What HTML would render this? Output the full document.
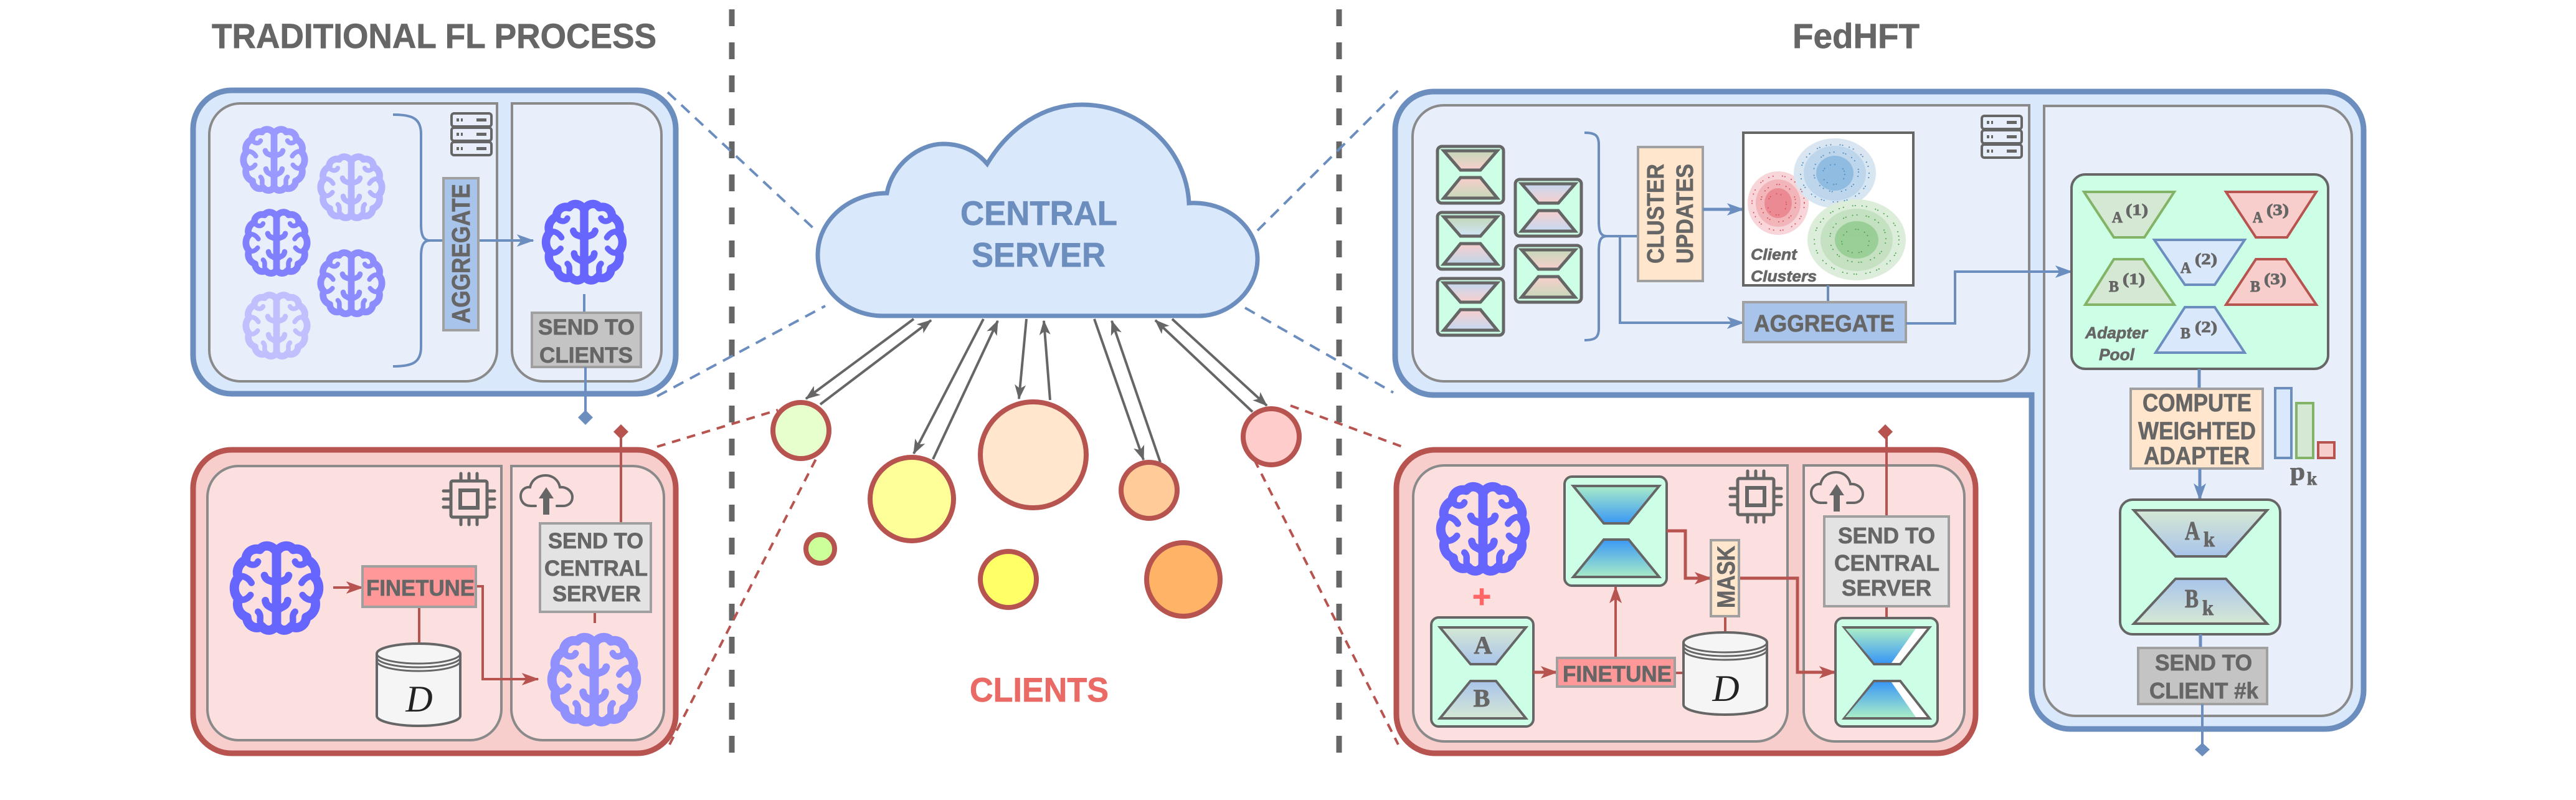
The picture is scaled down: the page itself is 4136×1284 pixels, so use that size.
<!DOCTYPE html>
<html><head><meta charset="utf-8"><title>FedHFT diagram</title>
<style>
html,body{margin:0;padding:0;background:#fff}
svg{display:block}
text{font-family:"Liberation Sans",sans-serif;font-weight:bold;fill:#666;stroke:#666;stroke-width:.7px}
.m{font-family:"Liberation Serif",serif;stroke-width:.9px}
.i{font-style:italic}
</style></head><body>
<svg xmlns="http://www.w3.org/2000/svg" width="4136" height="1284" viewBox="0 0 4136 1284">
<defs>
<marker id="hb" viewBox="0 0 16 16" refX="15" refY="8" markerWidth="28" markerHeight="20" markerUnits="userSpaceOnUse" orient="auto" preserveAspectRatio="none"><path d="M0,0 L16,8 L0,16 L4,8 Z" fill="#6c8ebf"/></marker>
<marker id="hr" viewBox="0 0 16 16" refX="15" refY="8" markerWidth="28" markerHeight="20" markerUnits="userSpaceOnUse" orient="auto" preserveAspectRatio="none"><path d="M0,0 L16,8 L0,16 L4,8 Z" fill="#b85450"/></marker>
<marker id="hg" viewBox="0 0 16 16" refX="15" refY="8" markerWidth="24" markerHeight="18" markerUnits="userSpaceOnUse" orient="auto" preserveAspectRatio="none"><path d="M0,0 L16,8 L0,16 L4,8 Z" fill="#666"/></marker>

<linearGradient id="gpT" x1="0" y1="0" x2="0" y2="1"><stop offset="0" stop-color="#c6d9ba"/><stop offset="1" stop-color="#f8cecc"/></linearGradient>
<linearGradient id="gpB" x1="0" y1="1" x2="0" y2="0"><stop offset="0" stop-color="#c6d9ba"/><stop offset="1" stop-color="#f8cecc"/></linearGradient>
<linearGradient id="gbT" x1="0" y1="0" x2="0" y2="1"><stop offset="0" stop-color="#c4d9f2"/><stop offset="1" stop-color="#f8cecc"/></linearGradient>
<linearGradient id="gbB" x1="0" y1="1" x2="0" y2="0"><stop offset="0" stop-color="#c4d9f2"/><stop offset="1" stop-color="#f8cecc"/></linearGradient>
<linearGradient id="ggT" x1="0" y1="0" x2="0" y2="1"><stop offset="0" stop-color="#c3d6b8"/><stop offset="1" stop-color="#cfe6f8"/></linearGradient>
<linearGradient id="ggB" x1="0" y1="1" x2="0" y2="0"><stop offset="0" stop-color="#bfd6ea"/><stop offset="1" stop-color="#f8cecc"/></linearGradient>
<linearGradient id="akT" x1="0" y1="0" x2="0" y2="1"><stop offset="0" stop-color="#d5e8d4"/><stop offset="1" stop-color="#a9c4eb"/></linearGradient>
<linearGradient id="akB" x1="0" y1="1" x2="0" y2="0"><stop offset="0" stop-color="#d5e8d4"/><stop offset="1" stop-color="#a9c4eb"/></linearGradient>
<linearGradient id="blT" x1="0" y1="0" x2="0" y2="1"><stop offset="0" stop-color="#a9ecc8"/><stop offset="1" stop-color="#3a98f5"/></linearGradient>
<linearGradient id="blB" x1="0" y1="1" x2="0" y2="0"><stop offset="0" stop-color="#a9ecc8"/><stop offset="1" stop-color="#3a98f5"/></linearGradient>

<g id="brain" fill="none" stroke-linecap="round" stroke-linejoin="round">
<path stroke-width="10" d="M50,12 C46,4 36,3 32,9 C24,7 17,12 17,20 C9,24 6,32 9,39 C3,45 3,56 9,62 C6,71 10,79 18,82 C18,90 26,96 34,92 C39,98 47,97 50,90 C53,97 61,98 66,92 C74,96 82,90 82,82 C90,79 94,71 91,62 C97,56 97,45 91,39 C94,32 91,24 83,20 C83,12 76,7 68,9 C64,3 54,4 50,12 Z"/>
<path stroke-width="10" d="M50,12 V92"/>
<path stroke-width="8" d="M50,46 C46,42 39,44 37,37 M50,46 C54,42 61,44 63,37 M50,76 C46,70 39,72 38,64 M50,76 C54,70 61,72 62,64"/>
<path stroke-width="7" d="M17,20 C20,27 28,27 30,22 M83,20 C80,27 72,27 70,22 M9,39 C14,36 20,40 23,45 M91,39 C86,36 80,40 77,45 M9,62 C14,65 19,62 22,58 M91,62 C86,65 81,62 78,58 M34,92 C30,85 35,81 30,76 M66,92 C70,85 65,81 70,76"/>
</g>

<g id="server" fill="none" stroke="#666">
<rect x="2" y="2" width="64" height="21" rx="4" stroke-width="4"/>
<rect x="2" y="25" width="64" height="21" rx="4" stroke-width="4"/>
<rect x="2" y="48" width="64" height="21" rx="4" stroke-width="4"/>
<path stroke-width="5" d="M10,12.5 h4 M17,12.5 h3 M42,12.5 h16 M10,35.5 h4 M17,35.5 h3 M42,35.5 h16 M10,58.5 h4 M17,58.5 h3 M42,58.5 h16"/>
</g>

<g id="cpu" fill="none" stroke="#666">
<rect x="15" y="15" width="58" height="58" rx="3" stroke-width="5"/>
<rect x="30" y="30" width="28" height="28" stroke-width="6"/>
<path stroke-width="5" stroke-linecap="round" d="M31,3 V15 M44,3 V15 M57,3 V15 M31,73 V85 M44,73 V85 M57,73 V85 M3,31 H15 M3,44 H15 M3,57 H15 M73,31 H85 M73,44 H85 M73,57 H85"/>
</g>

<g id="cloudup" fill="none">
<path stroke="#666" stroke-width="4" stroke-linecap="round" d="M26,52 H18 C7,52 2,44 2,36 C2,27 9,21 17,22 C20,9 31,3 42,3 C54,3 63,11 65,22 C75,21 85,28 85,38 C85,47 78,52 70,52 H60"/>
<path fill="#666" d="M43,22 L55,40 H48 V66 H38 V40 H31 Z"/>
</g>

<g id="cyl">
<path d="M0,18 A67,16 0 0 1 134,18 V118 A67,16 0 0 1 0,118 Z" fill="#f5f5f5" stroke="#666" stroke-width="4"/>
<path d="M0,18 A67,16 0 0 0 134,18 M0,24 A67,16 0 0 0 134,24 M0,30 A67,16 0 0 0 134,30" fill="none" stroke="#666" stroke-width="3"/>
</g>
</defs>

<rect width="4136" height="1284" fill="#fff"/>

<!-- titles -->
<text x="340" y="77" font-size="56" textLength="714" lengthAdjust="spacingAndGlyphs">TRADITIONAL FL PROCESS</text>
<text x="2878" y="77" font-size="56" textLength="204" lengthAdjust="spacingAndGlyphs">FedHFT</text>

<!-- vertical dashed -->
<path d="M1175,15 V1214 M2150,15 V1214" stroke="#666" stroke-width="9" stroke-dasharray="27 26" fill="none"/>

<!-- dashed connectors -->
<g fill="none" stroke-width="4">
<path d="M1072,148 L1310,370 M1055,636 L1325,491 M2019,370 L2245,145 M1999,494 L2237,630" stroke="#6c8ebf" stroke-dasharray="18 12"/>
<path d="M1055,717 L1249,658 M1075,1195 L1313,731 M2072,651 L2257,719 M2014,738 L2245,1195" stroke="#b85450" stroke-dasharray="14 11"/>
</g>

<!-- ========== LEFT BLUE ========== -->
<rect x="310" y="145" width="775" height="487" rx="62" fill="#dae8fc" stroke="#6c8ebf" stroke-width="9"/>
<path d="M386,166 H798 V562 A50,50 0 0 1 748,612 H386 A50,50 0 0 1 336,562 V216 A50,50 0 0 1 386,166 Z" fill="#e8effb" stroke="#8a8a8a" stroke-width="4"/>
<path d="M822,166 H1012 A50,50 0 0 1 1062,216 V562 A50,50 0 0 1 1012,612 H872 A50,50 0 0 1 822,562 Z" fill="#e8effb" stroke="#8a8a8a" stroke-width="4"/>
<use href="#brain" transform="translate(386,202) scale(1.08)" stroke="#9999ff"/>
<use href="#brain" transform="translate(510,246) scale(1.08)" stroke="#b3b3ff"/>
<use href="#brain" transform="translate(390,335) scale(1.08)" stroke="#8080ff"/>
<use href="#brain" transform="translate(510,400) scale(1.08)" stroke="#8c8cff"/>
<use href="#brain" transform="translate(390,468) scale(1.08)" stroke="#c0c0ff"/>
<use href="#brain" transform="translate(870.5,320.5) scale(1.35)" stroke="#6666ff"/>
<use href="#server" transform="translate(723,180)"/>
<path d="M631,184 C662,184 676,190 676,215 V360 C676,378 680,386 690,386 C680,386 676,394 676,412 V557 C676,582 662,588 631,588" fill="none" stroke="#6c8ebf" stroke-width="4"/>
<path d="M685,386 H856" fill="none" stroke="#6c8ebf" stroke-width="4" marker-end="url(#hb)"/>
<rect x="712" y="286" width="56" height="244" fill="#a9c4eb" stroke="#a0a0a0" stroke-width="4"/>
<text transform="translate(754,519) rotate(-90)" font-size="41" textLength="224" lengthAdjust="spacingAndGlyphs">AGGREGATE</text>
<path d="M938,472 V502" stroke="#6c8ebf" stroke-width="4"/>
<rect x="854" y="502" width="175" height="87" fill="#c4c4c4" stroke="#a0a0a0" stroke-width="4"/>
<text x="864" y="537" font-size="35" textLength="155" lengthAdjust="spacingAndGlyphs">SEND TO</text>
<text x="866" y="582" font-size="35" textLength="150" lengthAdjust="spacingAndGlyphs">CLIENTS</text>
<path d="M940,589 V670" stroke="#6c8ebf" stroke-width="4"/>
<polygon points="940,658 952,670 940,682 928,670" fill="#6c8ebf"/>

<!-- ========== LEFT RED ========== -->
<rect x="310" y="722" width="775" height="487" rx="62" fill="#f8cecc" stroke="#b85450" stroke-width="9"/>
<path d="M383,748 H805 V1138 A50,50 0 0 1 755,1188 H383 A50,50 0 0 1 333,1138 V798 A50,50 0 0 1 383,748 Z" fill="#fbe0df" stroke="#8a8a8a" stroke-width="4"/>
<path d="M821,748 H1016 A50,50 0 0 1 1066,798 V1138 A50,50 0 0 1 1016,1188 H871 A50,50 0 0 1 821,1138 Z" fill="#fbe0df" stroke="#8a8a8a" stroke-width="4"/>
<use href="#cpu" transform="translate(709,757)"/>
<use href="#cloudup" transform="translate(834,760)"/>
<use href="#brain" transform="translate(369.5,868.5) scale(1.49)" stroke="#6666ff"/>
<use href="#brain" transform="translate(879.5,1015.5) scale(1.49)" stroke="#9090ff"/>
<path d="M535,943 H582" fill="none" stroke="#b85450" stroke-width="4" marker-end="url(#hr)"/>
<path d="M764,941 H775 V1090 H864" fill="none" stroke="#b85450" stroke-width="4" marker-end="url(#hr)"/>
<path d="M673,974 V1031" stroke="#b85450" stroke-width="4"/>
<rect x="582" y="909" width="182" height="65" fill="#ff9999" stroke="#a0a0a0" stroke-width="4"/>
<text x="588" y="956" font-size="36" textLength="174" lengthAdjust="spacingAndGlyphs">FINETUNE</text>
<use href="#cyl" transform="translate(605,1031)"/>
<text x="673" y="1142" font-size="60" text-anchor="middle" style="font-family:'Liberation Serif',serif;font-weight:normal;font-style:italic;fill:#222;stroke:none">D</text>
<path d="M997,840 V693 M955,982 V1000" stroke="#b85450" stroke-width="4"/>
<polygon points="997,681 1009,693 997,705 985,693" fill="#b85450"/>
<rect x="867" y="840" width="178" height="142" fill="#e3e3e3" stroke="#a0a0a0" stroke-width="4"/>
<text x="880" y="880" font-size="35" textLength="153" lengthAdjust="spacingAndGlyphs">SEND TO</text>
<text x="874" y="924" font-size="35" textLength="166" lengthAdjust="spacingAndGlyphs">CENTRAL</text>
<text x="887" y="965" font-size="35" textLength="142" lengthAdjust="spacingAndGlyphs">SERVER</text>

<!-- ========== CENTER ========== -->
<path d="M1418,507 C1360,507 1313,465 1313,409 C1313,352 1365,310 1424,310 C1432,265 1475,231 1514,231 C1545,231 1568,243 1585,263 C1620,205 1675,168 1737,168 C1830,168 1905,240 1909,326 C1970,322 2019,365 2019,416 C2019,465 1975,507 1925,507 Z" fill="#dae8fc" stroke="#6c8ebf" stroke-width="7"/>
<text x="1542" y="361" font-size="55" textLength="252" lengthAdjust="spacingAndGlyphs" style="fill:#6c8ebf;stroke:#6c8ebf">CENTRAL</text>
<text x="1560" y="428" font-size="55" textLength="215" lengthAdjust="spacingAndGlyphs" style="fill:#6c8ebf;stroke:#6c8ebf">SERVER</text>
<text x="1557" y="1126" font-size="55" textLength="223" lengthAdjust="spacingAndGlyphs" style="fill:#ea6b66;stroke:#ea6b66">CLIENTS</text>

<g fill="none" stroke="#666" stroke-width="4" marker-end="url(#hg)">
<path d="M1467,512 L1294,640"/>
<path d="M1317,649 L1495,514"/>
<path d="M1579,512 L1467,728"/>
<path d="M1498,737 L1602,515"/>
<path d="M1648,512 L1636,640"/>
<path d="M1686,642 L1676,515"/>
<path d="M1757,512 L1836,738"/>
<path d="M1863,742 L1785,515"/>
<path d="M1882,512 L2034,651"/>
<path d="M2011,661 L1855,514"/>
</g>

<g stroke="#b85450" stroke-width="8">
<circle cx="1286" cy="691" r="45" fill="#e6ffcc"/>
<circle cx="1464" cy="801" r="67" fill="#ffff99"/>
<circle cx="1659" cy="730" r="85" fill="#ffe6cc"/>
<circle cx="1845" cy="787" r="45" fill="#ffcc99"/>
<circle cx="2041" cy="701" r="45" fill="#ffcccc"/>
<circle cx="1317" cy="881" r="23" fill="#ccff99"/>
<circle cx="1619" cy="930" r="45" fill="#ffff66"/>
<circle cx="1900" cy="930" r="59" fill="#ffb366"/>
</g>

<!-- ========== RIGHT BLUE ========== -->
<path d="M2302,147 H3733 A62,62 0 0 1 3795,209 V1108 A62,62 0 0 1 3733,1170 H3324 A62,62 0 0 1 3262,1108 V634 H2302 A62,62 0 0 1 2240,572 V209 A62,62 0 0 1 2302,147 Z" fill="#dae8fc" stroke="#6c8ebf" stroke-width="9"/>
<path d="M2318,169 H3258 V562 A50,50 0 0 1 3208,612 H2318 A50,50 0 0 1 2268,562 V219 A50,50 0 0 1 2318,169 Z" fill="#e8effb" stroke="#8a8a8a" stroke-width="4"/>
<path d="M3282,170 H3726 A50,50 0 0 1 3776,220 V1099 A50,50 0 0 1 3726,1149 H3332 A50,50 0 0 1 3282,1099 Z" fill="#e8effb" stroke="#8a8a8a" stroke-width="4"/>
<use href="#server" transform="translate(3180,184)"/>

<!-- small adapters -->
<g stroke="#666" stroke-width="5">
<rect x="2308" y="235" width="106" height="91" rx="7" fill="#ccffe6"/>
<polygon points="2318,242 2404,242 2377,273 2345,273" fill="url(#gpT)"/>
<polygon points="2345,285 2377,285 2404,318 2318,318" fill="url(#gpB)"/>
<rect x="2308" y="341" width="106" height="91" rx="7" fill="#ccffe6"/>
<polygon points="2318,348 2404,348 2377,379 2345,379" fill="url(#ggT)"/>
<polygon points="2345,391 2377,391 2404,424 2318,424" fill="url(#ggB)"/>
<rect x="2308" y="447" width="106" height="91" rx="7" fill="#ccffe6"/>
<polygon points="2318,454 2404,454 2377,485 2345,485" fill="url(#gbT)"/>
<polygon points="2345,497 2377,497 2404,530 2318,530" fill="url(#gbB)"/>
<rect x="2433" y="288" width="106" height="91" rx="7" fill="#ccffe6"/>
<polygon points="2443,295 2529,295 2502,326 2470,326" fill="url(#gbT)"/>
<polygon points="2470,338 2502,338 2529,371 2443,371" fill="url(#gbB)"/>
<rect x="2433" y="394" width="106" height="91" rx="7" fill="#ccffe6"/>
<polygon points="2443,401 2529,401 2502,432 2470,432" fill="url(#gpT)"/>
<polygon points="2470,444 2502,444 2529,477 2443,477" fill="url(#gpB)"/>
</g>

<path d="M2544,213 C2562,213 2567,218 2567,232 V355 C2567,372 2570,379 2580,379 C2570,379 2567,386 2567,403 V527 C2567,541 2562,546 2544,546" fill="none" stroke="#6c8ebf" stroke-width="4"/>
<path d="M2578,379 H2630 M2601,379 V518 H2799" fill="none" stroke="#6c8ebf" stroke-width="4" marker-end="url(#hb)"/>
<rect x="2630" y="236" width="104" height="215" fill="#ffe6cc" stroke="#a0a0a0" stroke-width="4"/>
<text transform="translate(2671,423) rotate(-90)" font-size="38" textLength="160" lengthAdjust="spacingAndGlyphs">CLUSTER</text>
<text transform="translate(2718,423) rotate(-90)" font-size="38" textLength="160" lengthAdjust="spacingAndGlyphs">UPDATES</text>
<path d="M2734,336 H2799" fill="none" stroke="#6c8ebf" stroke-width="5" marker-end="url(#hb)"/>

<!-- cluster image -->
<rect x="2799" y="213" width="273" height="245" fill="#fff" stroke="#666" stroke-width="4"/>
<g opacity=".8">
<ellipse cx="2855" cy="326" rx="49" ry="51" fill="#f6cbcf"/>
<ellipse cx="2946" cy="278" rx="66" ry="56" fill="#cfe0ee"/>
<ellipse cx="2981" cy="385" rx="79" ry="65" fill="#d4e9d2"/>
</g>
<ellipse cx="2855" cy="326" rx="36" ry="38" fill="#f0a9af" opacity=".75"/>
<ellipse cx="2855" cy="326" rx="22" ry="24" fill="#ea7f89" opacity=".8"/>
<ellipse cx="2946" cy="278" rx="50" ry="44" fill="#b4d0e8" opacity=".75"/>
<ellipse cx="2946" cy="278" rx="30" ry="28" fill="#85b5de" opacity=".8"/>
<ellipse cx="2981" cy="385" rx="58" ry="50" fill="#bcdcb9" opacity=".75"/>
<ellipse cx="2981" cy="385" rx="35" ry="30" fill="#8ecb8c" opacity=".8"/>
<g fill="none" stroke-width="2" stroke-linecap="round" stroke-dasharray="0.1 7 0.1 15 0.1 4 0.1 11">
<g stroke="#d9535f"><ellipse cx="2855" cy="326" rx="42" ry="44"/><ellipse cx="2855" cy="326" rx="28" ry="30"/><ellipse cx="2853" cy="328" rx="15" ry="17"/></g>
<g stroke="#4a8cc4"><ellipse cx="2946" cy="278" rx="55" ry="46"/><ellipse cx="2948" cy="276" rx="36" ry="32"/><ellipse cx="2944" cy="280" rx="18" ry="16"/></g>
<g stroke="#4da34d"><ellipse cx="2981" cy="385" rx="68" ry="55"/><ellipse cx="2983" cy="383" rx="45" ry="38"/><ellipse cx="2979" cy="387" rx="22" ry="19"/></g>
</g>
<text class="i" x="2811" y="417" font-size="25" textLength="74" lengthAdjust="spacingAndGlyphs">Client</text>
<text class="i" x="2811" y="452" font-size="25" textLength="106" lengthAdjust="spacingAndGlyphs">Clusters</text>
<path d="M2935,458 V485" stroke="#6c8ebf" stroke-width="4"/>
<rect x="2799" y="485" width="261" height="64" fill="#a9c4eb" stroke="#a0a0a0" stroke-width="4"/>
<text x="2816" y="532" font-size="38" textLength="226" lengthAdjust="spacingAndGlyphs">AGGREGATE</text>
<path d="M3060,519 H3139 V436 H3326" fill="none" stroke="#6c8ebf" stroke-width="4" marker-end="url(#hb)"/>

<!-- adapter pool -->
<rect x="3326" y="280" width="412" height="312" rx="22" fill="#ccffe6" stroke="#666" stroke-width="4"/>
<g stroke-width="4">
<polygon points="3346,308 3491,308 3443,381 3394,381" fill="#d5e8d4" stroke="#82b366"/>
<polygon points="3394,416 3441,416 3491,489 3348,489" fill="#d5e8d4" stroke="#82b366"/>
<polygon points="3459,385 3604,385 3556,457 3508,457" fill="#dae8fc" stroke="#6c8ebf"/>
<polygon points="3508,493 3556,493 3604,566 3461,566" fill="#dae8fc" stroke="#6c8ebf"/>
<polygon points="3574,308 3719,308 3672,381 3622,381" fill="#f8cecc" stroke="#b85450"/>
<polygon points="3622,416 3670,416 3719,489 3574,489" fill="#f8cecc" stroke="#b85450"/>
</g>
<text class="m" x="3391" y="357" font-size="25" textLength="17" lengthAdjust="spacingAndGlyphs">A</text>
<text class="m" x="3413" y="345" font-size="25" textLength="36" lengthAdjust="spacingAndGlyphs">(1)</text>
<text class="m" x="3386" y="468" font-size="25" textLength="16" lengthAdjust="spacingAndGlyphs">B</text>
<text class="m" x="3408" y="456" font-size="25" textLength="36" lengthAdjust="spacingAndGlyphs">(1)</text>
<text class="m" x="3501" y="438" font-size="25" textLength="17" lengthAdjust="spacingAndGlyphs">A</text>
<text class="m" x="3524" y="424" font-size="25" textLength="36" lengthAdjust="spacingAndGlyphs">(2)</text>
<text class="m" x="3501" y="543" font-size="25" textLength="16" lengthAdjust="spacingAndGlyphs">B</text>
<text class="m" x="3524" y="533" font-size="25" textLength="36" lengthAdjust="spacingAndGlyphs">(2)</text>
<text class="m" x="3617" y="357" font-size="25" textLength="16" lengthAdjust="spacingAndGlyphs">A</text>
<text class="m" x="3639" y="345" font-size="25" textLength="36" lengthAdjust="spacingAndGlyphs">(3)</text>
<text class="m" x="3613" y="468" font-size="25" textLength="16" lengthAdjust="spacingAndGlyphs">B</text>
<text class="m" x="3635" y="456" font-size="25" textLength="36" lengthAdjust="spacingAndGlyphs">(3)</text>
<text class="i" x="3348" y="543" font-size="26" textLength="100" lengthAdjust="spacingAndGlyphs">Adapter</text>
<text class="i" x="3370" y="578" font-size="26" textLength="57" lengthAdjust="spacingAndGlyphs">Pool</text>

<path d="M3531,592 V624" stroke="#6c8ebf" stroke-width="5"/>
<rect x="3421" y="624" width="212" height="128" fill="#ffe6cc" stroke="#a0a0a0" stroke-width="4"/>
<text x="3440" y="660" font-size="40" textLength="175" lengthAdjust="spacingAndGlyphs">COMPUTE</text>
<text x="3433" y="705" font-size="40" textLength="189" lengthAdjust="spacingAndGlyphs">WEIGHTED</text>
<text x="3442" y="745" font-size="40" textLength="170" lengthAdjust="spacingAndGlyphs">ADAPTER</text>
<path d="M3532,752 V802" fill="none" stroke="#6c8ebf" stroke-width="5" marker-end="url(#hb)"/>

<rect x="3653" y="623" width="26" height="112" fill="#dae8fc" stroke="#6c8ebf" stroke-width="4"/>
<rect x="3687" y="647" width="27" height="88" fill="#d5e8d4" stroke="#82b366" stroke-width="4"/>
<rect x="3722" y="710" width="26" height="25" fill="#f8cecc" stroke="#b85450" stroke-width="4"/>
<text class="m" x="3677" y="770" font-size="40" textLength="24" lengthAdjust="spacingAndGlyphs">p</text>
<text class="m" x="3704" y="778" font-size="30" textLength="16" lengthAdjust="spacingAndGlyphs">k</text>

<rect x="3404" y="802" width="257" height="216" rx="20" fill="#ccffe6" stroke="#666" stroke-width="4"/>
<polygon points="3426,819 3640,819 3574,893 3493,893" fill="url(#akT)" stroke="#666" stroke-width="4"/>
<polygon points="3493,929 3574,929 3640,1001 3426,1001" fill="url(#akB)" stroke="#666" stroke-width="4"/>
<text class="m" x="3508" y="866" font-size="42" textLength="24" lengthAdjust="spacingAndGlyphs">A</text>
<text class="m" x="3538" y="877" font-size="34" textLength="18" lengthAdjust="spacingAndGlyphs">k</text>
<text class="m" x="3508" y="975" font-size="42" textLength="22" lengthAdjust="spacingAndGlyphs">B</text>
<text class="m" x="3536" y="987" font-size="34" textLength="18" lengthAdjust="spacingAndGlyphs">k</text>
<path d="M3533,1018 V1040" stroke="#6c8ebf" stroke-width="5"/>
<rect x="3433" y="1040" width="207" height="90" fill="#c4c4c4" stroke="#a0a0a0" stroke-width="4"/>
<text x="3460" y="1076" font-size="36" textLength="156" lengthAdjust="spacingAndGlyphs">SEND TO</text>
<text x="3451" y="1121" font-size="36" textLength="175" lengthAdjust="spacingAndGlyphs">CLIENT #k</text>
<path d="M3536,1130 V1203" stroke="#6c8ebf" stroke-width="4"/>
<polygon points="3536,1192 3548,1203 3536,1214 3524,1203" fill="#6c8ebf"/>

<!-- ========== RIGHT RED ========== -->
<rect x="2242" y="722" width="930" height="487" rx="62" fill="#f8cecc" stroke="#b85450" stroke-width="9"/>
<path d="M2319,747 H2870 V1140 A50,50 0 0 1 2820,1190 H2319 A50,50 0 0 1 2269,1140 V797 A50,50 0 0 1 2319,747 Z" fill="#fbe0df" stroke="#8a8a8a" stroke-width="4"/>
<path d="M2896,747 H3104 A50,50 0 0 1 3154,797 V1140 A50,50 0 0 1 3104,1190 H2946 A50,50 0 0 1 2896,1140 Z" fill="#fbe0df" stroke="#8a8a8a" stroke-width="4"/>
<use href="#cpu" transform="translate(2775,753)"/>
<use href="#cloudup" transform="translate(2906,755)"/>
<use href="#brain" transform="translate(2306.5,773.5) scale(1.49)" stroke="#6666ff"/>
<text x="2379" y="975" font-size="52" text-anchor="middle" style="fill:#ff6666;stroke:#ff6666">+</text>

<rect x="2512" y="765" width="164" height="175" rx="12" fill="#ccffe6" stroke="#666" stroke-width="4"/>
<polygon points="2526,780 2664,780 2615,840 2575,840" fill="url(#blT)" stroke="#666" stroke-width="4"/>
<polygon points="2575,866 2615,866 2664,926 2526,926" fill="url(#blB)" stroke="#666" stroke-width="4"/>

<rect x="2298" y="991" width="164" height="175" rx="12" fill="#ccffe6" stroke="#666" stroke-width="4"/>
<polygon points="2312,1007 2450,1007 2402,1066 2361,1066" fill="url(#akT)" stroke="#666" stroke-width="4"/>
<polygon points="2361,1093 2402,1093 2450,1153 2312,1153" fill="url(#akB)" stroke="#666" stroke-width="4"/>
<text class="m" x="2381" y="1049" font-size="40" text-anchor="middle">A</text>
<text class="m" x="2379" y="1134" font-size="40" text-anchor="middle">B</text>

<g fill="none" stroke="#b85450" stroke-width="5">
<path d="M2462,1079 H2500" marker-end="url(#hr)"/>
<path d="M2594,1056 V942" stroke-width="4" marker-end="url(#hr)"/>
<path d="M2676,852 H2706 V928 H2747" marker-end="url(#hr)"/>
<path d="M2792,928 H2886 V1079 H2947" marker-end="url(#hr)"/>
<path d="M2689,1080 H2703 M2770,989 V1013 M3029,829 V693 M3029,973 V992" stroke-width="4"/>
</g>
<polygon points="3027,681 3039,693 3027,705 3015,693" fill="#b85450"/>
<rect x="2500" y="1056" width="189" height="46" fill="#ff9999" stroke="#a0a0a0" stroke-width="4"/>
<text x="2509" y="1094" font-size="36" textLength="175" lengthAdjust="spacingAndGlyphs">FINETUNE</text>
<use href="#cyl" transform="translate(2703,1013)"/>
<text x="2771" y="1125" font-size="60" text-anchor="middle" style="font-family:'Liberation Serif',serif;font-weight:normal;font-style:italic;fill:#222;stroke:none">D</text>
<rect x="2747" y="867" width="45" height="122" fill="#ffe6cc" stroke="#a0a0a0" stroke-width="4"/>
<text transform="translate(2785,976) rotate(-90)" font-size="40" textLength="100" lengthAdjust="spacingAndGlyphs">MASK</text>

<rect x="2947" y="992" width="164" height="174" rx="12" fill="#ccffe6" stroke="#666" stroke-width="4"/>
<polygon points="2961,1007 3098,1007 3051,1066 3009,1066" fill="#fff" stroke="#666" stroke-width="4"/>
<polygon points="2963,1009 3076,1009 3037,1064 3010,1064" fill="url(#blT)"/>
<polygon points="3009,1093 3051,1093 3098,1153 2961,1153" fill="#fff" stroke="#666" stroke-width="4"/>
<polygon points="3010,1095 3037,1095 3076,1151 2963,1151" fill="url(#blB)"/>

<rect x="2929" y="829" width="200" height="144" fill="#e3e3e3" stroke="#a0a0a0" stroke-width="4"/>
<text x="2951" y="872" font-size="36" textLength="156" lengthAdjust="spacingAndGlyphs">SEND TO</text>
<text x="2945" y="916" font-size="36" textLength="169" lengthAdjust="spacingAndGlyphs">CENTRAL</text>
<text x="2957" y="956" font-size="36" textLength="144" lengthAdjust="spacingAndGlyphs">SERVER</text>
</svg>
</body></html>
